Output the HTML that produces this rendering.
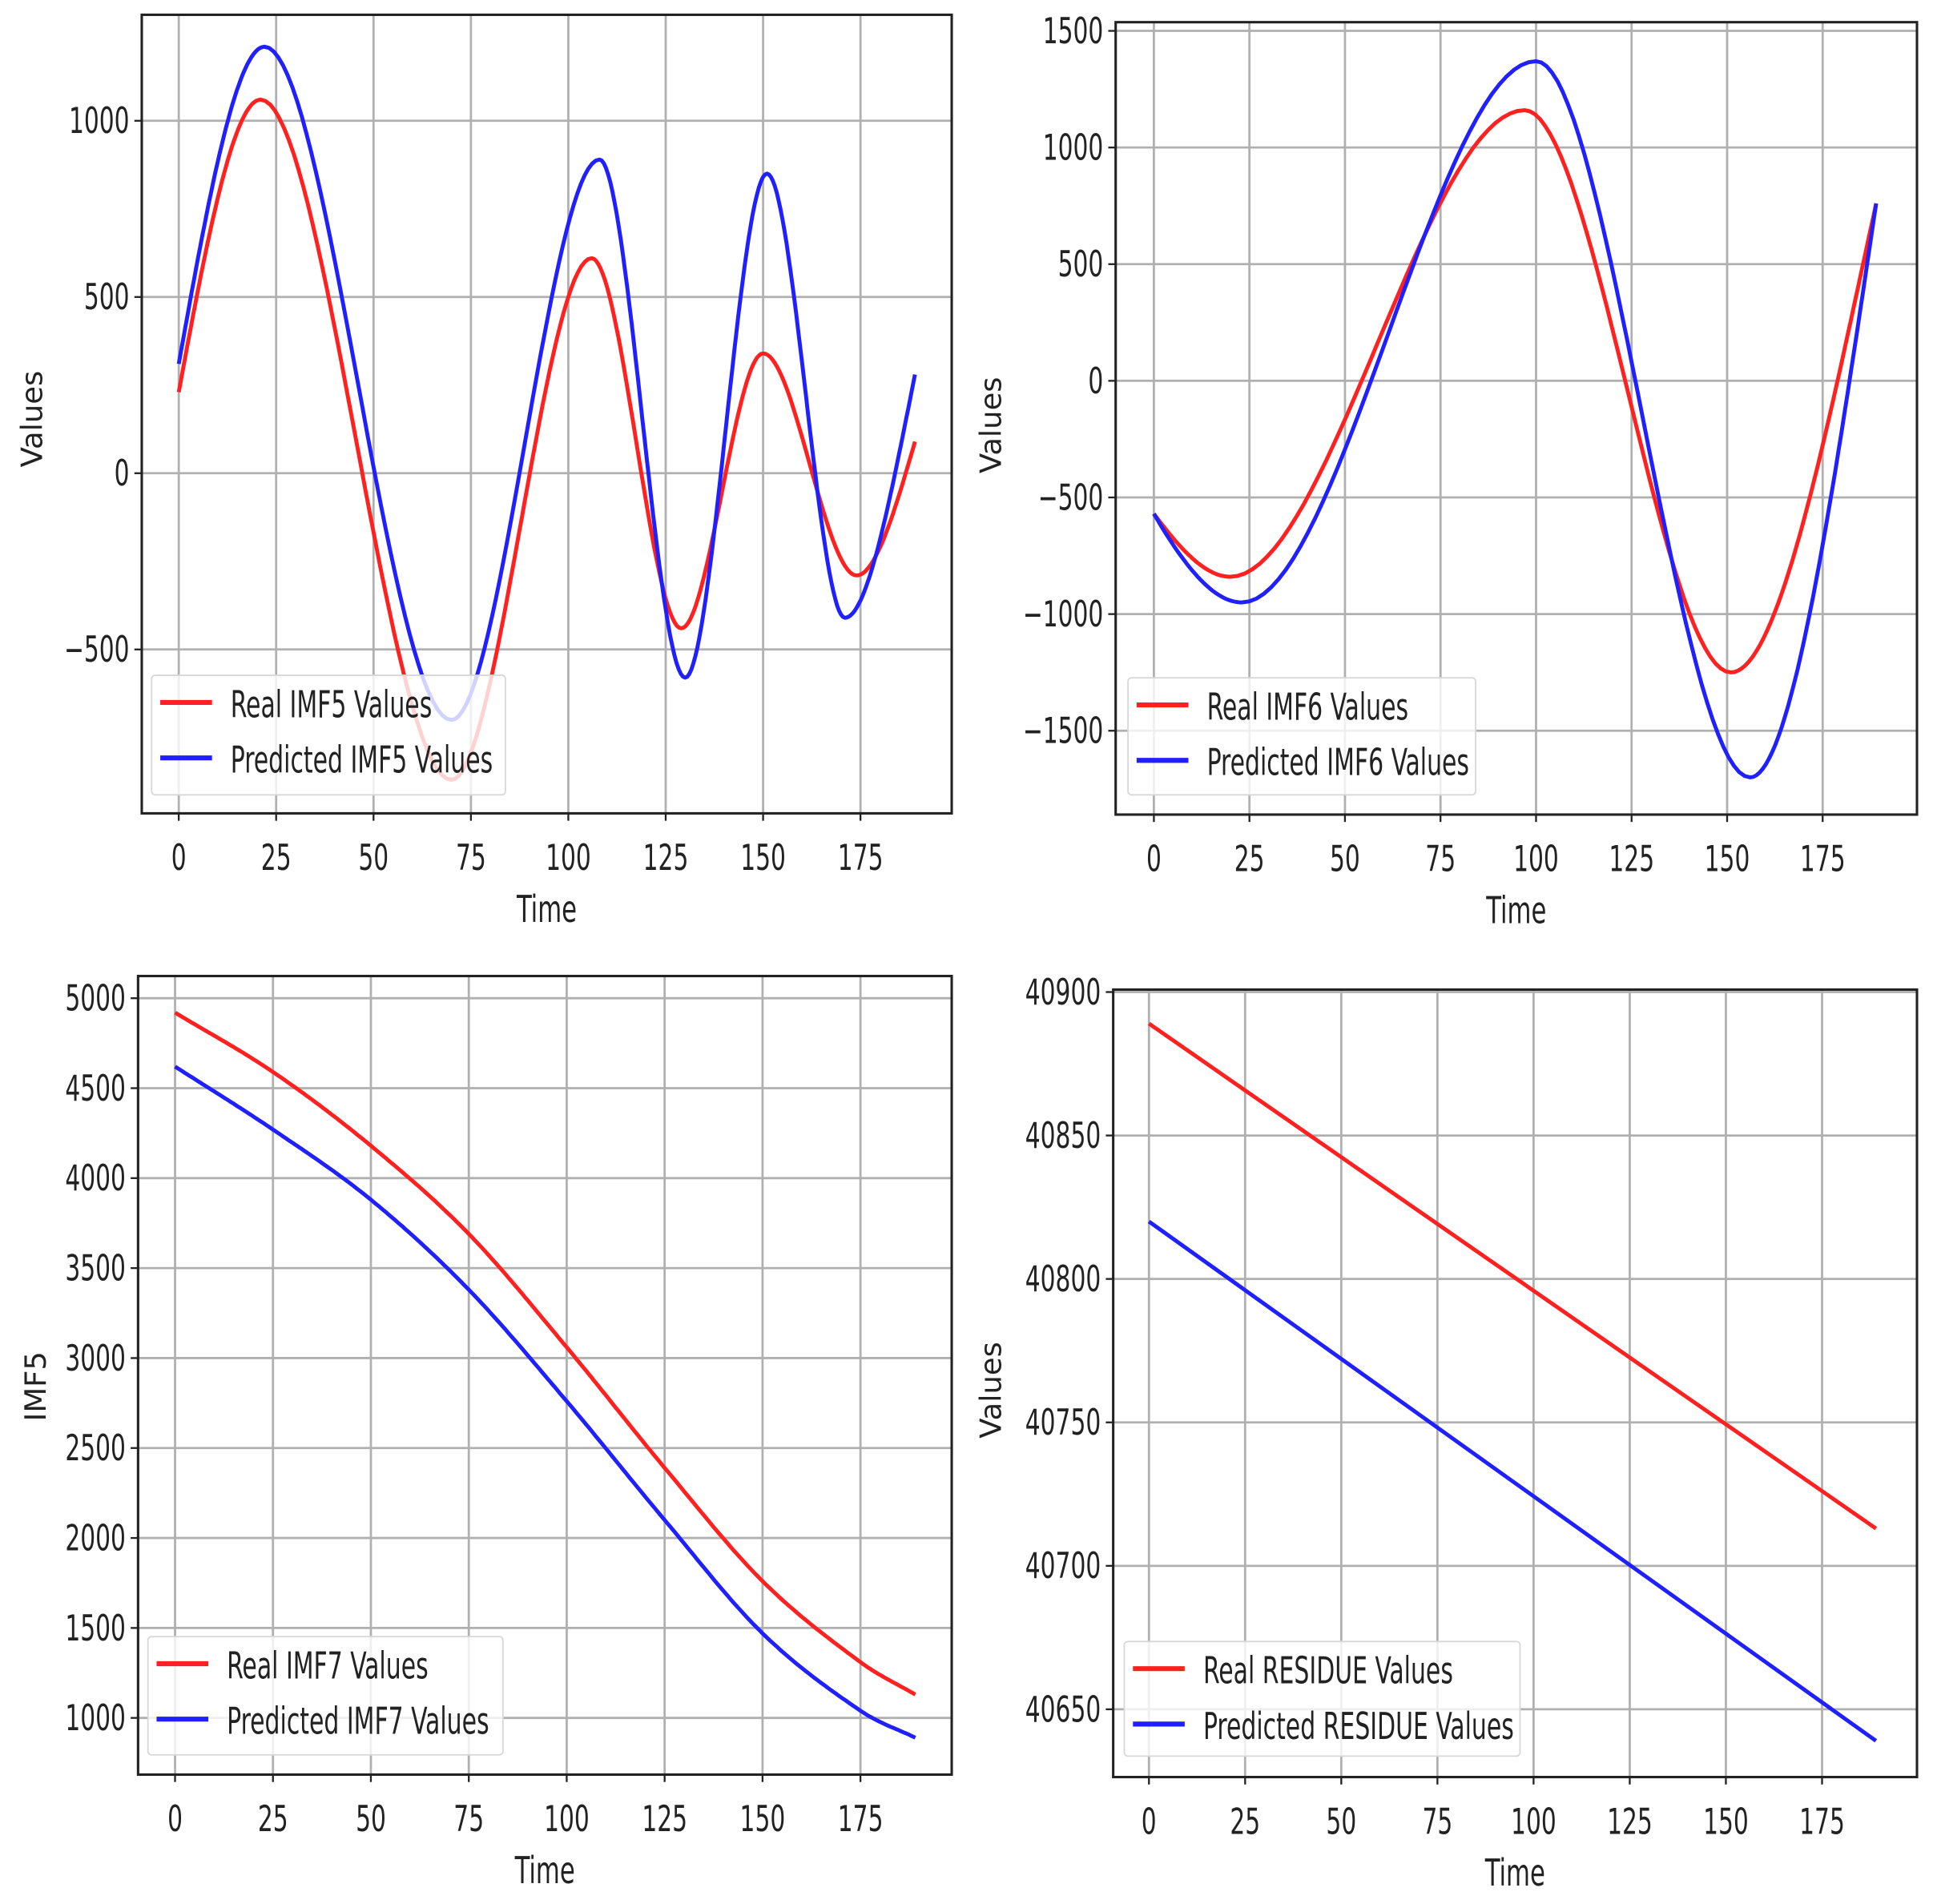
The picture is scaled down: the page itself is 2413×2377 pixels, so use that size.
<!DOCTYPE html>
<html><head><meta charset="utf-8">
<style>
html,body{margin:0;padding:0;background:#fff;}
svg{display:block;}
text{font-family:"DejaVu Sans Condensed","Liberation Sans",sans-serif;fill:#222;}
</style></head>
<body>
<svg id="s" width="2413" height="2377" viewBox="0 0 1568 1545" preserveAspectRatio="none" xmlns="http://www.w3.org/2000/svg"></svg>
<script>
const S=document.getElementById('s');
let out='';
function txt(x,y,size,anchor,str,sx){sx=sx||0.74;
  return `<text transform="translate(${x},${y}) scale(${sx},1)" font-size="${size}" text-anchor="${anchor}">${str}</text>`;}
function hermite(keys){
  const pts=[];
  for(let i=0;i<keys.length-1;i++){
    const [t0,v0,m0]=keys[i],[t1,v1,m1]=keys[i+1];const h=t1-t0;
    for(let k=0;k<=40;k++){const s=k/40;
      const h00=2*s*s*s-3*s*s+1,h10=s*s*s-2*s*s+s,h01=-2*s*s*s+3*s*s,h11=s*s*s-s*s;
      pts.push([t0+s*h,h00*v0+h10*h*m0+h01*v1+h11*h*m1]);}
  }
  return pts;
}
function catmull(keys){
  const n=keys.length;const ks=keys.map((k,i)=>{
    let m;if(i==0)m=(keys[1][1]-keys[0][1])/(keys[1][0]-keys[0][0]);
    else if(i==n-1)m=(keys[n-1][1]-keys[n-2][1])/(keys[n-1][0]-keys[n-2][0]);
    else m=(keys[i+1][1]-keys[i-1][1])/(keys[i+1][0]-keys[i-1][0]);
    return [k[0],k[1],m];});
  return hermite(ks);
}
function panel(p){
  const X=t=>p.x0+t*p.xs, Y=v=>p.y0+(v-p.v0)*p.ys;
  let o='';
  o+=`<defs><clipPath id="c${p.id}"><rect x="${p.L}" y="${p.T}" width="${p.R-p.L}" height="${p.B-p.T}"/></clipPath></defs>`;
  for(let t=0;t<=175;t+=25){const x=X(t);
    o+=`<line x1="${x}" y1="${p.T}" x2="${x}" y2="${p.B}" stroke="#b0b0b0" stroke-width="1.8"/>`;
    o+=`<line x1="${x}" y1="${p.B}" x2="${x}" y2="${p.B+6}" stroke="#222" stroke-width="1.5"/>`;
    o+=txt(x,p.B+46,29,'middle',t);}
  p.yt.forEach(v=>{const y=Y(v);
    o+=`<line x1="${p.L}" y1="${y}" x2="${p.R}" y2="${y}" stroke="#b0b0b0" stroke-width="1.8"/>`;
    o+=`<line x1="${p.L-6}" y1="${y}" x2="${p.L}" y2="${y}" stroke="#222" stroke-width="1.5"/>`;
    o+=txt(p.L-10,y+10,29,'end',v<0?'\u2212'+(-v):v);});
  o+=`<g clip-path="url(#c${p.id})">`;
  p.series.forEach(s=>{
    const d=s.pts.map((q,i)=>(i?'L':'M')+X(q[0]).toFixed(1)+','+Y(q[1]).toFixed(1)).join('');
    o+=`<path d="${d}" fill="none" stroke="${s.c}" stroke-width="3.2" stroke-linejoin="round"/>`;});
  o+='</g>';
  const g=p.leg;
  o+=`<rect x="${g.x}" y="${g.y}" width="${g.w}" height="${g.h}" rx="3" fill="rgba(255,255,255,0.8)" stroke="#d8d8d8" stroke-width="1.2"/>`;
  p.series.forEach((s,i)=>{const y=g.y+22+i*45;
    o+=`<line x1="${g.x+7}" y1="${y}" x2="${g.x+49}" y2="${y}" stroke="${s.c}" stroke-width="4"/>`;
    o+=txt(g.x+64,y+12,30,'start',s.name,0.72);});
  o+=`<rect x="${p.L}" y="${p.T}" width="${p.R-p.L}" height="${p.B-p.T}" fill="none" stroke="#222" stroke-width="2"/>`;
  o+=txt((p.L+p.R)/2,p.B+88,30,'middle','Time');
  o+=`<text transform="translate(${p.yl[0]},${p.yl[1]}) rotate(-90)" font-size="24" text-anchor="middle" style="font-family:'DejaVu Sans',sans-serif">${p.ylab}</text>`;
  return o;
}
const R='#ff2020',B='#2020ff';
out+=panel({id:1,L:115,R:772,T:12,B:660,x0:145,xs:3.16,y0:384,v0:0,ys:-0.286,yt:[1000,500,0,-500],
  ylab:'Values',yl:[34,340],leg:{x:123,y:548,w:287,h:97},
  series:[
   {c:R,name:'Real IMF5 Values',pts:hermite([[0,230,60],[21,1060,0],[70,-870,0],[106,610,0],[129,-440,0],[150,340,0],[174,-290,0],[189,90,38]])},
   {c:B,name:'Predicted IMF5 Values',pts:hermite([[0,310,62],[22,1210,0],[70,-700,0],[108,890,0],[130,-580,0],[151,850,0],[171,-410,0],[189,280,55]])}]});
out+=panel({id:2,L:905,R:1555,T:18,B:661,x0:936,xs:3.1,y0:309,v0:0,ys:-0.1893,yt:[1500,1000,500,0,-500,-1000,-1500],
  ylab:'Values',yl:[812,345],leg:{x:915,y:550,w:282,h:95},
  series:[
   {c:R,name:'Real IMF6 Values',pts:hermite([[0,-570,-22],[20,-840,0],[97,1160,0],[151,-1250,0],[189,760,75]])},
   {c:B,name:'Predicted IMF6 Values',pts:hermite([[0,-570,-28],[23,-950,0],[100,1370,0],[156,-1700,0],[189,760,110]])}]});
out+=panel({id:3,L:112,R:772,T:792,B:1440,x0:142,xs:3.177,y0:810,v0:5000,ys:-0.146,yt:[5000,4500,4000,3500,3000,2500,2000,1500,1000],
  ylab:'IMF5',yl:[37,1125],leg:{x:120,y:1328,w:288,h:96},
  series:[
   {c:R,name:'Real IMF7 Values',pts:catmull([[0,4920],[25,4590],[50,4180],[75,3690],[100,3060],[125,2390],[150,1760],[175,1310],[189,1130]])},
   {c:B,name:'Predicted IMF7 Values',pts:catmull([[0,4620],[25,4270],[50,3880],[75,3380],[100,2760],[125,2100],[150,1470],[175,1040],[189,890]])}]});
out+=panel({id:4,L:903,R:1555,T:803,B:1442,x0:932,xs:3.12,y0:805,v0:40900,ys:-2.328,yt:[40900,40850,40800,40750,40700,40650],
  ylab:'Values',yl:[812,1128],leg:{x:912,y:1332,w:321,h:93},
  series:[
   {c:R,name:'Real RESIDUE Values',pts:[[0,40889],[189,40713]]},
   {c:B,name:'Predicted RESIDUE Values',pts:[[0,40820],[189,40639]]}]});
S.innerHTML=out;
</script>
</body></html>
